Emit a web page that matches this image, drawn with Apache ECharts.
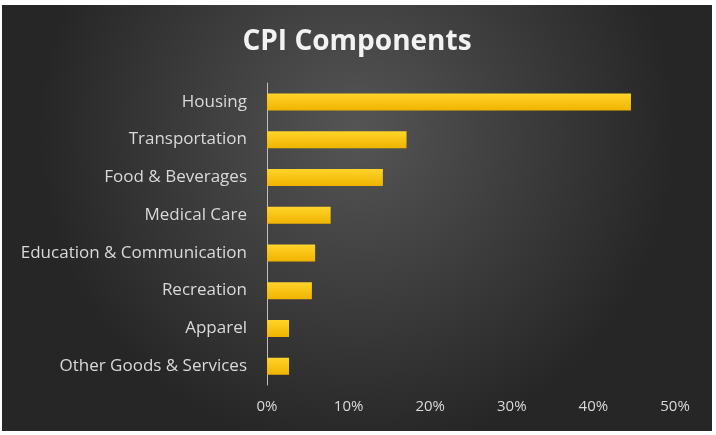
<!DOCTYPE html>
<html>
<head>
<meta charset="utf-8">
<script src="https://cdn.jsdelivr.net/npm/echarts@6/dist/echarts.min.js"></script>
<style>
    html, body { margin: 0; padding: 0; background: #ffffff; }
    #chart {
        position: absolute;
        left: 2px;
        top: 5px;
        width: 710px;
        height: 426px;
    }
</style>
</head>
<body>
<div id="chart"></div>
<script>
// 数据
const categories = [
    'Housing',
    'Transportation',
    'Food & Beverages',
    'Medical Care',
    'Education & Communication',
    'Recreation',
    'Apparel',
    'Other Goods & Services'
];
const shares = [44.6, 17.1, 14.2, 7.8, 5.9, 5.5, 2.7, 2.7];

const mychart = echarts.init(document.getElementById('chart'));

mychart.setOption({
    backgroundColor: {
        type: 'radial',
        x: 0.5, y: 0.3, r: 0.75,
        colorStops: [
            { offset: 0, color: '#555555' },
            { offset: 1, color: '#262626' }
        ]
    },
    title: {
        text: 'CPI Components',
        left: 'center',
        top: 18,
        textStyle: {
            color: '#f2f2f2',
            fontFamily: 'Open Sans',
            fontWeight: 'bold',
            fontSize: 28,
        },
    },
    grid: {
        left: 265,
        right: 37,
        top: 78,
        bottom: 46,
    },
    xAxis: {
        type: 'value',
        min: 0,
        max: 50,
        interval: 10,
        axisLine: { show: false },
        axisTick: { show: false },
        splitLine: { show: false },
        axisLabel: {
            color: '#d9d9d9',
            fontFamily: 'Open Sans',
            fontSize: 15,
            margin: 14,
            formatter: v => v + '%',
        },
    },
    yAxis: {
        type: 'category',
        data: categories,
        inverse: true,
        axisLine: { show: true, lineStyle: { color: '#bfbfbf', width: 1 } },
        axisTick: { show: false },
        axisLabel: {
            color: '#d9d9d9',
            fontFamily: 'Open Sans',
            fontSize: 17,
            margin: 20,
        },
    },
    series: [
        {
            type: 'bar',
            data: shares,
            barWidth: 17,
            itemStyle: {
                color: {
                    type: 'linear', x: 0, y: 0, x2: 0, y2: 1,
                    colorStops: [
                        { offset: 0, color: '#ffd42a' },
                        { offset: 1, color: '#f0b400' }
                    ]
                },
                shadowColor: 'rgba(0,0,0,0.6)',
                shadowBlur: 3,
                shadowOffsetX: 2,
                shadowOffsetY: 2,
            },
        },
    ],
});
</script>
</body>
</html>
